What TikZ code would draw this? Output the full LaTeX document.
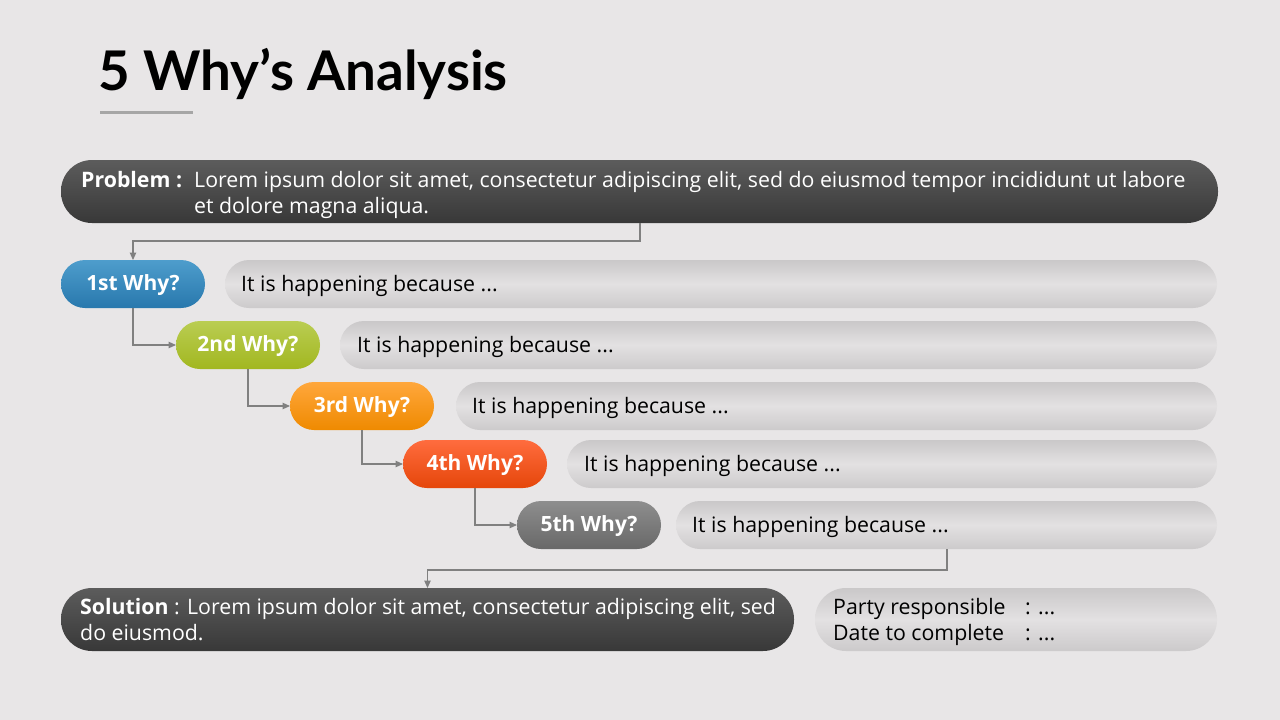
\documentclass[tikz,border=0pt]{standalone}
\usepackage{fontspec}
\setmainfont{Open Sans}
\newfontfamily\titlefont{Lato}
\usetikzlibrary{arrows.meta}
\definecolor{bgc}{HTML}{E8E6E7}
\definecolor{connc}{HTML}{808080}
\definecolor{darktop}{HTML}{5C5C5C}
\definecolor{darkbot}{HTML}{383838}
\definecolor{lttop}{HTML}{CAC8C9}
\definecolor{ltmid}{HTML}{E3E1E2}
\definecolor{ltbot}{HTML}{CCCACB}
\definecolor{bluetop}{HTML}{4E9DCC}
\definecolor{bluebot}{HTML}{2878AD}
\definecolor{greentop}{HTML}{BACD52}
\definecolor{greenbot}{HTML}{A2B720}
\definecolor{orgtop}{HTML}{FFA73C}
\definecolor{orgbot}{HTML}{EF8A00}
\definecolor{redtop}{HTML}{FF6C3E}
\definecolor{redbot}{HTML}{E5460A}
\definecolor{graytop}{HTML}{8E8E8E}
\definecolor{graybot}{HTML}{686868}
\tikzset{
  boxbase/.style={inner sep=0pt, outer sep=0pt, anchor=north west},
  darkbar/.style={boxbase, top color=darktop, bottom color=darkbot, rounded corners=31pt, minimum height=63pt},
  ltshade/.style={top color=lttop, bottom color=ltbot, middle color=ltmid},
  ltbar/.style={boxbase, ltshade, rounded corners=24pt, minimum height=48pt},
  whybox/.style={boxbase, rounded corners=24pt, minimum height=48pt, minimum width=144pt},
  whytxt/.style={inner sep=0pt, text=white, font=\bfseries\fontsize{21}{24}\selectfont},
  bodytxt/.style={anchor=base west, inner sep=0pt, font=\fontsize{21.3}{24}\selectfont},
  conn/.style={draw=connc, line width=1.1pt, -{Triangle[length=7.5pt,width=6.5pt]}},
}
\begin{document}
\begin{tikzpicture}[x=1pt,y=-1pt]
\fill[bgc] (0,0) rectangle (1280,720);
\useasboundingbox (0,0) rectangle (1280,720);

% title
\node[anchor=base west, inner sep=0pt, font=\titlefont\bfseries\fontsize{54.7}{60}\selectfont] (title) at (98,90) {5 Why’s Analysis};
\draw[line width=3pt, color={rgb,255:red,166;green,166;blue,166}] (100,112) -- (193,112);

% problem
\node[darkbar, minimum width=1157pt] (prob) at (61,160) {};
\node[bodytxt, text=white] (probl) at (81,187) {\bfseries Problem :};
\node[bodytxt, text=white] (probt1) at (194,187) {Lorem ipsum dolor sit amet, consectetur adipiscing elit, sed do eiusmod tempor incididunt ut labore};
\node[bodytxt, text=white] (probt2) at (194,213) {et dolore magna aliqua.};

% whys
\node[whybox, top color=bluetop, bottom color=bluebot] (w1) at (61,260) {};
\node[whytxt] (w1t) at ([yshift=-1pt]w1.center) {1st Why?};
\node[ltbar, minimum width=992pt] (t1) at (225,260) {};
\node[bodytxt] (t1t) at (241,291) {It is happening because ...};

\node[whybox, top color=greentop, bottom color=greenbot] (w2) at (176,321) {};
\node[whytxt] (w2t) at ([yshift=-1pt]w2.center) {2nd Why?};
\node[ltbar, minimum width=877pt] (t2) at (340,321) {};
\node[bodytxt] (t2t) at (357,352) {It is happening because ...};

\node[whybox, top color=orgtop, bottom color=orgbot] (w3) at (290,382) {};
\node[whytxt] (w3t) at ([yshift=-1pt]w3.center) {3rd Why?};
\node[ltbar, minimum width=761pt] (t3) at (456,382) {};
\node[bodytxt] (t3t) at (472,413) {It is happening because ...};

\node[whybox, top color=redtop, bottom color=redbot] (w4) at (403,440) {};
\node[whytxt] (w4t) at ([yshift=-1pt]w4.center) {4th Why?};
\node[ltbar, minimum width=650pt] (t4) at (567,440) {};
\node[bodytxt] (t4t) at (584,471) {It is happening because ...};

\node[whybox, top color=graytop, bottom color=graybot] (w5) at (517,501) {};
\node[whytxt] (w5t) at ([yshift=-1pt]w5.center) {5th Why?};
\node[ltbar, minimum width=541pt] (t5) at (676,501) {};
\node[bodytxt] (t5t) at (692,532) {It is happening because ...};

% solution
\node[darkbar, minimum width=733pt] (sol) at (61,588) {};
\node[bodytxt, text=white] (solt1) at (80,614) {\textbf{Solution} : Lorem ipsum dolor sit amet, consectetur adipiscing elit, sed};
\node[bodytxt, text=white] (solt2) at (80,640) {do eiusmod.};

\node[boxbase, ltshade, rounded corners=31pt, minimum height=63pt, minimum width=402pt] (party) at (815,588) {};
\node[bodytxt] (p1) at (833,614) {Party responsible};
\node[bodytxt] (p1v) at (1025,614) {: ...};
\node[bodytxt] (p2) at (833,640) {Date to complete};
\node[bodytxt] (p2v) at (1025,640) {: ...};

% connectors
\coordinate (c0) at (640,223);
\draw[conn] (c0) -- ++(0,18) -| (w1.north);
\draw[conn] (w1.south) |- (w2.west);
\draw[conn] (w2.south) |- (w3.west);
\draw[conn] (w3.south) |- (w4.west);
\draw[conn] (w4.south) |- (w5.west);
\coordinate (c5) at (947,549);
\draw[conn] (c5) -- ++(0,21) -| (sol.north);
\end{tikzpicture}
\end{document}
